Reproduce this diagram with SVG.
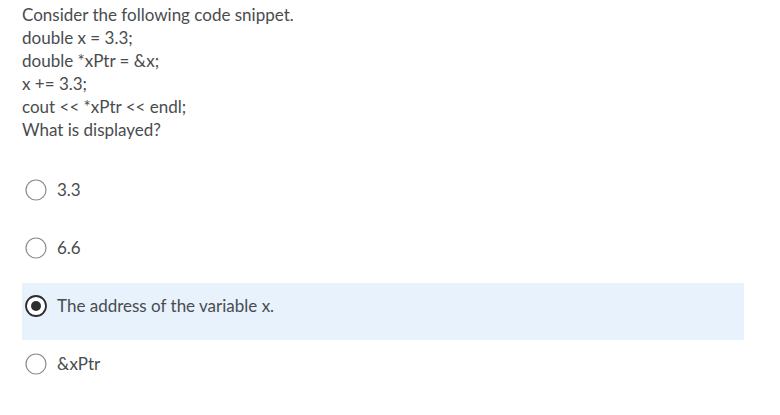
<svg xmlns="http://www.w3.org/2000/svg" width="780" height="415" viewBox="0 0 780 415">
<style>
text{font-family:Lato,"Open Sans",sans-serif;font-size:17px;fill:#494c4e}
.r{fill:#fff;stroke:#8a8c8e;stroke-width:1.2}
</style>
<rect width="780" height="415" fill="#fff"/>
<text x="22" y="21">Consider the following code snippet.</text>
<text x="22" y="44">double x = 3.3;</text>
<text x="22" y="67">double *xPtr = &amp;x;</text>
<text x="22" y="90">x += 3.3;</text>
<text x="22" y="113">cout &lt;&lt; *xPtr &lt;&lt; endl;</text>
<text x="22" y="136">What is displayed?</text>
<g id="opt1"><circle class="r" cx="36" cy="190" r="10"/><text x="57" y="196">3.3</text></g>
<g id="opt2"><circle class="r" cx="36" cy="248" r="10"/><text x="57" y="254">6.6</text></g>
<g id="opt3"><rect x="22" y="283" width="722" height="57" fill="#e8f2fc"/><circle cx="36" cy="306" r="10" fill="#fff" stroke="#2c2d2e" stroke-width="1.8"/><circle cx="36" cy="306" r="5" fill="#2c2d2e"/><text x="57" y="312">The address of the variable x.</text></g>
<g id="opt4"><circle class="r" cx="36" cy="364" r="10"/><text x="57" y="370">&amp;xPtr</text></g>
</svg>
